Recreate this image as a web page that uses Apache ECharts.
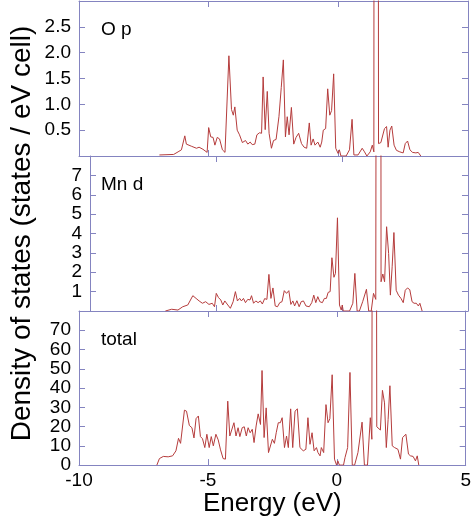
<!DOCTYPE html>
<html>
<head>
<meta charset="utf-8">
<script src="https://cdn.jsdelivr.net/npm/echarts@6/dist/echarts.min.js"></script>
<style>
  html, body { margin: 0; padding: 0; background: #fff; }
  #chart { width: 474px; height: 518px; }
</style>
</head>
<body>
<div id="chart"></div>
<script>
// O p partial DOS
const opEnergy = [
  -6.90, -6.35, -6.18, -6.05, -5.92, -5.86, -5.67, -5.47, -5.37, -5.22,
  -5.06, -5.00, -4.92, -4.83, -4.76, -4.67, -4.58, -4.47, -4.37, -4.22,
  -4.12, -4.05, -3.99, -3.90, -3.81, -3.70, -3.58, -3.49, -3.40, -3.32,
  -3.22, -3.14, -3.04, -2.96, -2.90, -2.82, -2.74, -2.67, -2.58, -2.50,
  -2.40, -2.29, -2.20, -2.12, -2.04, -1.97, -1.90, -1.81, -1.72, -1.63,
  -1.53, -1.42, -1.32, -1.22, -1.12, -1.05, -0.97, -0.90, -0.79, -0.70,
  -0.64, -0.58, -0.49, -0.41, -0.33, -0.26, -0.18, -0.10, -0.01, 0.04,
  0.10, 0.30, 0.43, 0.53, 0.60, 0.76, 0.92, 1.01, 1.10, 1.23,
  1.31, 1.37, 1.39, 1.52, 1.55, 1.64, 1.70, 1.78, 1.86, 1.92,
  1.99, 2.06, 2.15, 2.24, 2.37, 2.50, 2.58, 2.67, 2.76, 2.86,
  2.99, 3.08, 3.18
]
const opDos = [
  0.02, 0.03, 0.08, 0.12, 0.39, 0.23, 0.19, 0.15, 0.17, 0.13,
  0.07, 0.55, 0.37, 0.36, 0.21, 0.36, 0.33, 0.12, 0.07, 1.94,
  0.90, 0.79, 0.95, 0.50, 0.41, 0.26, 0.30, 0.23, 0.27, 0.22,
  0.23, 0.41, 0.45, 0.44, 1.53, 0.51, 1.25, 0.44, 0.15, 0.30,
  0.32, 0.76, 1.33, 1.86, 0.37, 0.76, 0.41, 0.94, 0.23, 0.36,
  0.44, 0.24, 0.17, 0.15, 0.64, 0.21, 0.33, 0.21, 0.27, 0.17,
  0.27, 0.50, 0.53, 1.30, 0.79, 0.88, 1.59, 0.15, 0.05, 0.12,
  0, 0, 0.12, 0.71, 0.02, 0.02, 0.15, 0.08, 0, 0.08,
  0.21, 0.08, 20, 20, 0.24, 0.26, 0.23, 0.53, 0.57, 0.17,
  0.50, 0.58, 0.21, 0.11, 0.08, 0.06, 0.24, 0.29, 0.12, 0.07,
  0.06, 0.07, 0
]

// Mn d partial DOS
const mnEnergy = [
  -7.01, -6.98, -6.76, -6.51, -6.32, -6.12, -5.92, -5.79, -5.67, -5.54,
  -5.41, -5.28, -5.15, -5.06, -4.99, -4.90, -4.81, -4.73, -4.65, -4.56,
  -4.43, -4.32, -4.23, -4.15, -4.06, -3.99, -3.91, -3.83, -3.74, -3.65,
  -3.59, -3.51, -3.42, -3.33, -3.24, -3.16, -3.07, -2.98, -2.90, -2.82,
  -2.74, -2.65, -2.56, -2.47, -2.38, -2.29, -2.20, -2.11, -2.03, -1.95,
  -1.88, -1.79, -1.70, -1.62, -1.53, -1.43, -1.30, -1.20, -1.12, -1.04,
  -0.96, -0.88, -0.78, -0.70, -0.62, -0.55, -0.47, -0.40, -0.32, -0.26,
  -0.18, -0.10, -0.03, 0.01, 0.05, 0.30, 0.43, 0.51, 0.60, 0.69,
  0.82, 0.97, 1.06, 1.16, 1.25, 1.34, 1.39, 1.52, 1.55, 1.62,
  1.69, 1.77, 1.85, 1.92, 1.99, 2.06, 2.15, 2.24, 2.34, 2.43,
  2.51, 2.60, 2.69, 2.78, 2.86, 2.95, 3.03, 3.09, 3.18
]
const mnDos = [
  0, 0.09, 0.09, 0.05, 0.22, 0.31, 0.79, 0.65, 0.52, 0.40,
  0.48, 0.34, 0.40, 0.22, 0.91, 0.69, 0.57, 0.31, 0.52, 0.36,
  0.14, 0.48, 1.00, 0.52, 0.65, 0.52, 0.65, 0.43, 0.60, 0.57,
  0.79, 0.40, 0.52, 0.43, 0.52, 0.36, 0.64, 0.60, 1.89, 0.65,
  1.19, 0.26, 0.22, 0.43, 0.48, 1.05, 0.91, 1.05, 0.34, 0.52,
  0.26, 0.53, 0.22, 0.48, 0.52, 0.26, 0.22, 0.43, 0.82, 0.43,
  0.74, 0.48, 0.43, 0.65, 0.65, 0.96, 1.00, 2.75, 1.74, 1.94,
  4.81, 0.31, 0.05, 0.31, 0, 0, 0.40, 1.94, 0, 0,
  0.48, 1.12, 0, 0, 0.91, 0.60, 50, 50, 1.51, 1.91,
  1.51, 4.35, 2.97, 0.82, 2.28, 4.05, 1.07, 0.82, 0.65, 0.43,
  1.07, 1.19, 1.10, 0.48, 0.40, 0.40, 0.26, 0.40, 0
]

// total DOS
const totEnergy = [
  -6.98, -6.88, -6.73, -6.54, -6.37, -6.24, -6.14, -6.06, -5.99, -5.91,
  -5.83, -5.72, -5.62, -5.54, -5.46, -5.37, -5.29, -5.21, -5.12, -5.04,
  -4.95, -4.87, -4.79, -4.69, -4.60, -4.51, -4.41, -4.32, -4.23, -4.15,
  -4.08, -3.99, -3.91, -3.83, -3.76, -3.67, -3.59, -3.51, -3.44, -3.36,
  -3.28, -3.21, -3.13, -3.05, -2.96, -2.90, -2.82, -2.74, -2.65, -2.58,
  -2.50, -2.42, -2.35, -2.27, -2.19, -2.12, -2.03, -1.95, -1.88, -1.79,
  -1.71, -1.62, -1.53, -1.43, -1.30, -1.20, -1.12, -1.04, -0.96, -0.88,
  -0.79, -0.73, -0.65, -0.60, -0.51, -0.42, -0.34, -0.27, -0.18, -0.09,
  -0.01, 0.04, 0.10, 0.26, 0.32, 0.42, 0.51, 0.60, 0.69, 0.82,
  0.98, 1.07, 1.19, 1.30, 1.36, 1.39, 1.52, 1.55, 1.62, 1.69,
  1.77, 1.85, 1.92, 1.99, 2.06, 2.15, 2.24, 2.37, 2.47, 2.55,
  2.68, 2.78, 2.86, 2.96, 3.05, 3.12, 3.18
]
const totDos = [
  0, 3.4, 4.5, 4.3, 4.8, 7.4, 13.9, 11.3, 10.3, 28.5,
  28.0, 20.6, 19.4, 14.1, 24.1, 25.5, 14.8, 13.7, 9.1, 16.0,
  9.1, 14.8, 10.0, 16.0, 13.1, 7.9, 3.4, 3.1, 33.2, 15.1,
  14.8, 22.0, 15.1, 19.4, 14.8, 19.4, 19.9, 15.1, 19.4, 16.8,
  18.6, 11.7, 20.3, 26.6, 21.1, 49.1, 14.3, 29.7, 6.5, 6.5,
  13.4, 11.3, 16.8, 22.0, 22.0, 24.6, 9.1, 15.1, 9.1, 29.2,
  9.1, 28.0, 29.2, 9.1, 7.4, 8.2, 24.6, 10.8, 16.8, 7.4,
  9.1, 6.5, 4.8, 9.1, 6.5, 31.4, 22.0, 24.1, 46.9, 3.1,
  0, 2.2, 0, 0, 4.0, 9.1, 48.1, 0, 0, 6.5,
  22.3, 0, 0, 24.6, 13.4, 300, 300, 19.9, 20.6, 18.2,
  38.8, 32.3, 9.1, 23.7, 41.2, 10.0, 9.1, 8.2, 3.1, 14.3,
  16.0, 5.7, 4.8, 4.5, 2.2, 4.8, 0
]

const panelNames = ['O p', 'Mn d', 'total']
const yMax = [3, 8, 80]
const yStep = [0.5, 1, 10]
const xTicks = [-10, -5, 0, 5]

const frameColor = '#8484c0'
const lineColor = '#b53c3c'
const font = 'Liberation Sans, Arial, Helvetica, sans-serif'

let chart = echarts.init(document.querySelector('#chart'), null, {renderer: 'canvas'})

const pairs = (xs, ys) => xs.map((x, i) => [x, ys[i]])
const seriesData = [pairs(opEnergy, opDos), pairs(mnEnergy, mnDos), pairs(totEnergy, totDos)]

const gridTop = [1, 156, 311]
const gridH = 155

let grids = [], xAxes = [], yAxes = [], series = [], titles = []

for (let i = 0; i < 3; i++) {
    grids.push({left: 79, width: 389, top: gridTop[i], height: gridH, show: false})

    // bottom and top x axes (top one only for frame + ticks)
    ;['bottom', 'top'].forEach(pos => {
        xAxes.push({
            gridIndex: i,
            type: 'value',
            position: pos,
            min: xTicks[0],
            max: xTicks[xTicks.length - 1],
            interval: 5,
            axisLine: {show: true, onZero: false, lineStyle: {color: frameColor, width: 1}},
            axisTick: {show: true, inside: true, length: 6, lineStyle: {color: frameColor}},
            axisLabel: {
                show: i === 2 && pos === 'bottom',
                fontSize: 19, color: '#000', fontFamily: font, margin: 6
            },
            splitLine: {show: false},
            name: (i === 2 && pos === 'bottom') ? 'Energy (eV)' : '',
            nameLocation: 'middle',
            nameGap: 24,
            nameTextStyle: {fontSize: 26, color: '#000', fontFamily: font}
        })
    })

    ;['left', 'right'].forEach(pos => {
        yAxes.push({
            gridIndex: i,
            type: 'value',
            position: pos,
            min: 0,
            max: yMax[i],
            interval: yStep[i],
            axisLine: {show: true, onZero: false, lineStyle: {color: frameColor, width: 1}},
            axisTick: {show: true, inside: true, length: 6, lineStyle: {color: frameColor}},
            axisLabel: {
                show: pos === 'left',
                fontSize: 19, color: '#000', fontFamily: font, margin: 8,
                formatter: v => {
                    if (v === yMax[i]) return ''
                    if (v === 0 && i < 2) return ''
                    return i === 0 ? v.toFixed(1) : String(v)
                }
            },
            splitLine: {show: false},
            name: (i === 1 && pos === 'left') ? 'Density of states (states / eV cell)' : '',
            nameLocation: 'middle',
            nameRotate: 90,
            nameGap: 54,
            nameTextStyle: {fontSize: 28, color: '#000', fontFamily: font, padding: [0, 0, 0, 0]}
        })
    })

    series.push({
        type: 'line',
        xAxisIndex: i * 2,
        yAxisIndex: i * 2,
        data: seriesData[i],
        showSymbol: false,
        clip: true,
        lineStyle: {color: lineColor, width: 1},
        itemStyle: {color: lineColor},
        animation: false
    })

    titles.push({
        text: panelNames[i],
        left: 101,
        top: gridTop[i] + 19,
        padding: 0,
        textStyle: {fontSize: 19, fontWeight: 'normal', color: '#000', fontFamily: font}
    })
}

chart.setOption({
    animation: false,
    title: titles,
    grid: grids,
    xAxis: xAxes,
    yAxis: yAxes,
    series: series
})
</script>
</body>
</html>
